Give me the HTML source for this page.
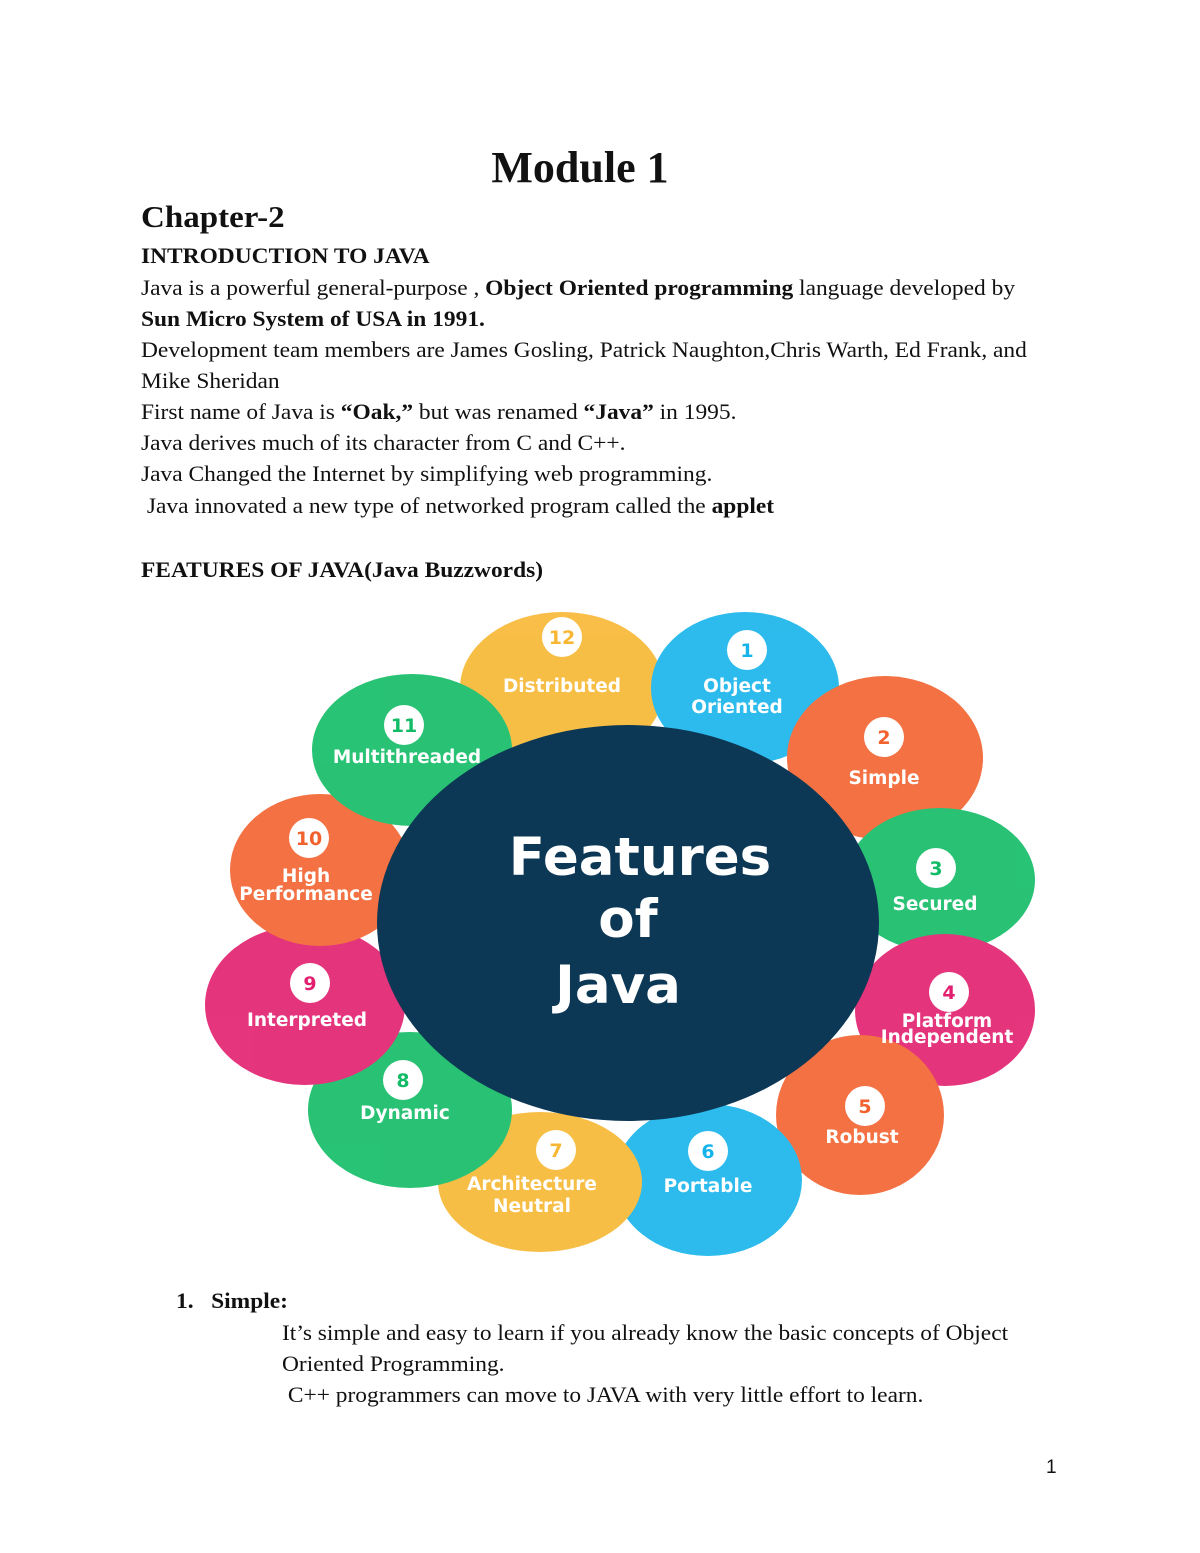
<!DOCTYPE html>
<html><head><meta charset="utf-8"><style>
body{margin:0;background:#fff;width:1200px;height:1553px;position:relative;overflow:hidden;font-family:"Liberation Serif",serif;color:#111}
.t{position:absolute;white-space:nowrap;font-size:22px;line-height:26px;left:141px;transform:scaleX(1.065);transform-origin:0 0}
b{font-weight:bold}
</style></head><body>
<div class="t" style="left:0;width:1160px;text-align:center;top:142px;font-size:44px;line-height:52px;font-weight:bold;transform:none">Module 1</div>
<div class="t" style="top:198px;font-size:31px;line-height:38px;font-weight:bold">Chapter-2</div>
<div class="t" style="top:243px"><b>INTRODUCTION TO JAVA</b></div>
<div class="t" style="top:275px">Java is a powerful general-purpose , <b>Object Oriented programming</b> language developed by</div>
<div class="t" style="top:306px"><b>Sun Micro System of USA in 1991.</b></div>
<div class="t" style="top:337px">Development team members are James Gosling, Patrick Naughton,Chris Warth, Ed Frank, and</div>
<div class="t" style="top:368px">Mike Sheridan</div>
<div class="t" style="top:399px">First name of Java is <b>“Oak,”</b> but was renamed <b>“Java”</b> in 1995.</div>
<div class="t" style="top:430px">Java derives much of its character from C and C++.</div>
<div class="t" style="top:461px">Java Changed the Internet by simplifying web programming.</div>
<div class="t" style="top:493px">&nbsp;Java innovated a new type of networked program called the <b>applet</b></div>
<div class="t" style="top:557px"><b>FEATURES OF JAVA(Java Buzzwords)</b></div>

<svg style="position:absolute;left:0;top:0" width="1200" height="1553" font-family="DejaVu Sans, Liberation Sans, sans-serif" font-weight="bold">
<g opacity="0.9">
<ellipse cx="562" cy="688" rx="102" ry="76" fill="#F7B733"/>
<ellipse cx="745" cy="688" rx="94" ry="76" fill="#16B4EA"/>
<ellipse cx="885" cy="758" rx="98" ry="82" fill="#F2622E"/>
<ellipse cx="940" cy="880" rx="95" ry="72" fill="#12BC66"/>
<ellipse cx="945" cy="1010" rx="90" ry="76" fill="#E21F6E"/>
<ellipse cx="860" cy="1115" rx="84" ry="80" fill="#F2622E"/>
<ellipse cx="708" cy="1180" rx="94" ry="76" fill="#16B4EA"/>
<ellipse cx="540" cy="1182" rx="102" ry="70" fill="#F7B733"/>
<ellipse cx="410" cy="1110" rx="102" ry="78" fill="#12BC66"/>
<ellipse cx="305" cy="1005" rx="100" ry="80" fill="#E21F6E"/>
<ellipse cx="320" cy="870" rx="90" ry="76" fill="#F2622E"/>
<ellipse cx="412" cy="750" rx="100" ry="76" fill="#12BC66"/>
</g>
<ellipse cx="628" cy="923" rx="251" ry="198" fill="#0D3855"/>
<g fill="#fff" text-anchor="middle">
<text x="640" y="875" font-size="53">Features</text>
<text x="628" y="937" font-size="53">of</text>
<text x="618" y="1003" font-size="53">Java</text>
</g>
<g font-size="18.5" text-anchor="middle">
<circle cx="562" cy="637" r="20" fill="#fff"/><text x="562" y="644" fill="#F7B733" font-size="19">12</text>
<text x="562" y="692" fill="#fff">Distributed</text>
<circle cx="747" cy="650" r="20" fill="#fff"/><text x="747" y="657" fill="#16B4EA" font-size="19">1</text>
<text x="737" y="692" fill="#fff">Object</text><text x="737" y="713" fill="#fff">Oriented</text>
<circle cx="884" cy="737" r="20" fill="#fff"/><text x="884" y="744" fill="#F2622E" font-size="19">2</text>
<text x="884" y="784" fill="#fff">Simple</text>
<circle cx="936" cy="868" r="20" fill="#fff"/><text x="936" y="875" fill="#12BC66" font-size="19">3</text>
<text x="935" y="910" fill="#fff">Secured</text>
<circle cx="949" cy="992" r="20" fill="#fff"/><text x="949" y="999" fill="#E21F6E" font-size="19">4</text>
<text x="947" y="1027" fill="#fff">Platform</text><text x="947" y="1043" fill="#fff">Independent</text>
<circle cx="865" cy="1106" r="20" fill="#fff"/><text x="865" y="1113" fill="#F2622E" font-size="19">5</text>
<text x="862" y="1143" fill="#fff">Robust</text>
<circle cx="708" cy="1151" r="20" fill="#fff"/><text x="708" y="1158" fill="#16B4EA" font-size="19">6</text>
<text x="708" y="1192" fill="#fff">Portable</text>
<circle cx="556" cy="1150" r="20" fill="#fff"/><text x="556" y="1157" fill="#F7B733" font-size="19">7</text>
<text x="532" y="1190" fill="#fff">Architecture</text><text x="532" y="1212" fill="#fff">Neutral</text>
<circle cx="403" cy="1080" r="20" fill="#fff"/><text x="403" y="1087" fill="#12BC66" font-size="19">8</text>
<text x="405" y="1119" fill="#fff">Dynamic</text>
<circle cx="310" cy="983" r="20" fill="#fff"/><text x="310" y="990" fill="#E21F6E" font-size="19">9</text>
<text x="307" y="1026" fill="#fff">Interpreted</text>
<circle cx="309" cy="838" r="20" fill="#fff"/><text x="309" y="845" fill="#F2622E" font-size="19">10</text>
<text x="306" y="882" fill="#fff">High</text><text x="306" y="900" fill="#fff">Performance</text>
<circle cx="404" cy="725" r="20" fill="#fff"/><text x="404" y="732" fill="#12BC66" font-size="19">11</text>
<text x="407" y="763" fill="#fff">Multithreaded</text>
</g>
</svg>

<div class="t" style="top:1288px;left:176px"><b>1.&nbsp;&nbsp;&nbsp;Simple:</b></div>
<div class="t" style="top:1320px;left:282px">It’s simple and easy to learn if you already know the basic concepts of Object</div>
<div class="t" style="top:1351px;left:282px">Oriented Programming.</div>
<div class="t" style="top:1382px;left:282px">&nbsp;C++ programmers can move to JAVA with very little effort to learn.</div>
<div class="t" style="top:1455px;left:1046px;font-family:'Liberation Sans',sans-serif;font-size:19px;transform:none">1</div>
</body></html>
